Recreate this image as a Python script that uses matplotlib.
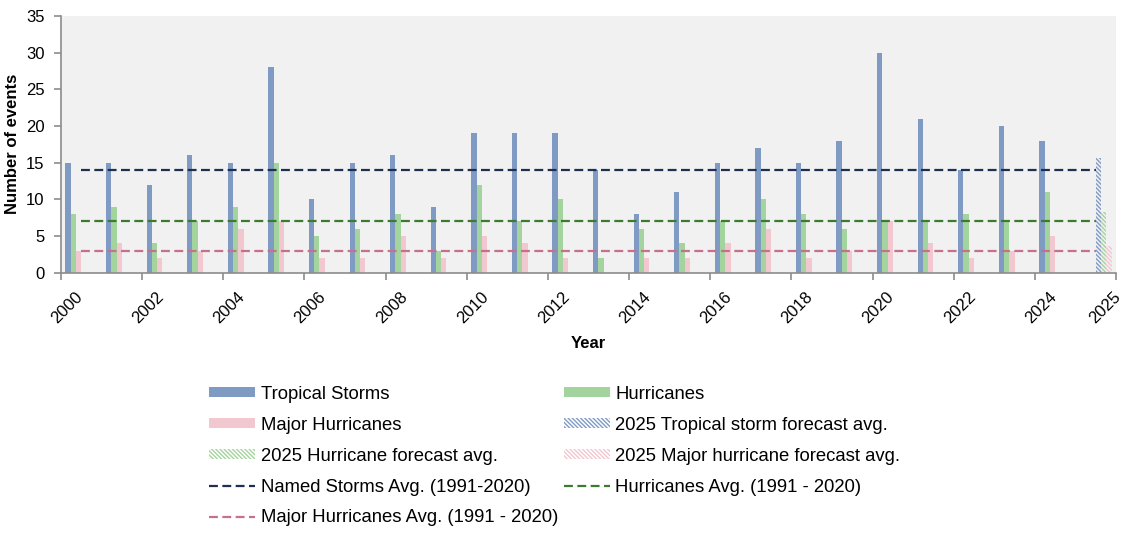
import numpy as np
import matplotlib.pyplot as plt
import matplotlib.transforms as mtransforms

plt.rcParams['font.family'] = ['Liberation Sans', 'DejaVu Sans']
plt.rcParams['hatch.linewidth'] = 1.0

years = list(range(2000, 2026))
storms = [15, 15, 12, 16, 15, 28, 10, 15, 16, 9, 19, 19, 19, 14, 8, 11, 15, 17, 15, 18, 30, 21, 14, 20, 18]
hurricanes = [8, 9, 4, 7, 9, 15, 5, 6, 8, 3, 12, 7, 10, 2, 6, 4, 7, 10, 8, 6, 7, 7, 8, 7, 11]
majors = [3, 4, 2, 3, 6, 7, 2, 2, 5, 2, 5, 4, 2, 0, 2, 2, 4, 6, 2, 3, 7, 4, 2, 3, 5]
forecast_2025 = [15.6, 8.3, 3.6]  # storms, hurricanes, major hurricanes
avg_storms, avg_hurr, avg_major = 14, 7, 3

c_blue = '#7f9bc4'
c_green = '#a4d49e'
c_pink = '#f3c7d0'

fig = plt.figure(figsize=(11.27, 5.36), dpi=100)
ax = fig.add_axes([61 / 1127, 1 - 272.7 / 536, 1055 / 1127, 256.7 / 536])
ax.set_facecolor('#f1f1f1')

n = len(storms)
w = 0.13
start = (1 - 6 * w) / 2
x = np.arange(n)
b1 = ax.bar(x + start, storms, w, align='edge', color=c_blue, lw=0)
b2 = ax.bar(x + start + w, hurricanes, w, align='edge', color=c_green, lw=0)
b3 = ax.bar(x + start + 2 * w, majors, w, align='edge', color=c_pink, lw=0)

# 2025 forecasts, hatched, in the last 3 slots of the 2025 group
h = '\\' * 8
fc = [c_blue, c_green, c_pink]
hb = []
for j, v in enumerate(forecast_2025):
    hb.append(ax.bar(n + start + (3 + j) * w, v, w, align='edge', facecolor='none',
                     edgecolor=fc[j], hatch=h, lw=0))

xl = np.arange(len(years)) + 0.5
l1, = ax.plot(xl, [avg_storms] * len(years), color='#1f2f52', lw=1.6, dashes=(4, 2))
l2, = ax.plot(xl, [avg_hurr] * len(years), color='#3c7a30', lw=1.6, dashes=(4, 2))
l3, = ax.plot(xl, [avg_major] * len(years), color='#c7708c', lw=1.6, dashes=(4, 2))

ax.set_xlim(0, 26)
ax.set_ylim(0, 35)
ax.set_yticks(range(0, 36, 5))
tick_pos = list(range(0, 25, 2)) + [26]
tick_lab = [str(y) for y in years[:25:2]] + ['2025']
ax.set_xticks(tick_pos)
ax.set_xticklabels(tick_lab, rotation=45, ha='center', va='top')
ax.tick_params(axis='both', labelsize=12, color='#8c8c8c', length=5, width=1.2)
ax.tick_params(axis='x', pad=7)
ax.tick_params(axis='y', pad=7)
off = mtransforms.ScaledTranslation(6 / 100, 0, fig.dpi_scale_trans)
for i, lab in enumerate(ax.get_xticklabels()):
    if i == len(tick_pos) - 1:
        lab.set_transform(lab.get_transform() + mtransforms.ScaledTranslation(-11 / 100, 0, fig.dpi_scale_trans))
    else:
        lab.set_transform(lab.get_transform() + off)

for s in ['top', 'right']:
    ax.spines[s].set_visible(False)
for s in ['left', 'bottom']:
    ax.spines[s].set_color('#8c8c8c')
    ax.spines[s].set_linewidth(1.2)

ax.set_ylabel('Number of events', fontsize=12, fontweight='bold')
ax.yaxis.set_label_coords(-0.039, 0.5)
ax.set_xlabel('Year', fontsize=12, fontweight='bold')
ax.xaxis.set_label_coords(0.5, -0.245)

handles = [b1, b3, hb[1], l1, l3, b2, hb[0], hb[2], l2]
labels = ['Tropical Storms', 'Major Hurricanes', '2025 Hurricane forecast avg.',
          'Named Storms Avg. (1991-2020)', 'Major Hurricanes Avg. (1991 - 2020)',
          'Hurricanes', '2025 Tropical storm forecast avg.',
          '2025 Major hurricane forecast avg.', 'Hurricanes Avg. (1991 - 2020)']
fig.legend(handles, labels, ncol=2, loc='upper left',
           bbox_to_anchor=(209 / 1127, 1 - 386 / 536), frameon=False, fontsize=13.3,
           handlelength=2.5, handleheight=0.45, handletextpad=0.3, columnspacing=0.3,
           labelspacing=0.75, borderpad=0, borderaxespad=0)

fig.savefig('out.png', dpi=100)
